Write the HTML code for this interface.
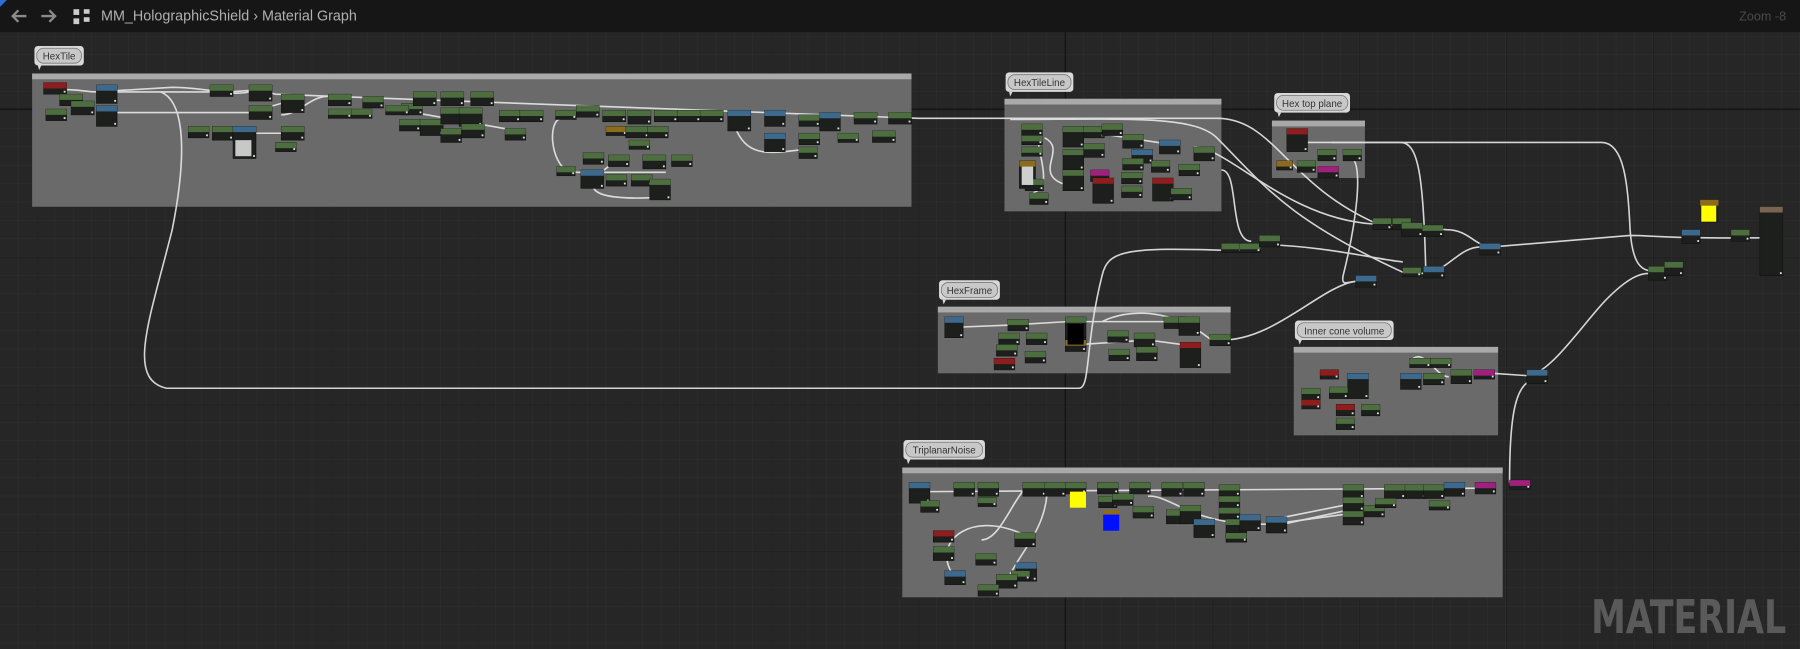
<!DOCTYPE html>
<html><head><meta charset="utf-8"><style>
html,body{margin:0;padding:0;background:#252525;overflow:hidden}
#wrap{width:1800px;height:649px;position:relative}
svg{position:absolute;left:0;top:0}
</style></head><body><div id="wrap">
<svg id="s" width="1800" height="649" viewBox="0 0 1568 565" preserveAspectRatio="none" xmlns="http://www.w3.org/2000/svg">
<defs>
<pattern id="g" width="16" height="16" patternUnits="userSpaceOnUse" x="0" y="0">
<rect width="16" height="16" fill="#262626"/>
<path d="M16 0V16M0 16H16" stroke="#2f2f2f" stroke-width="0.8"/>
</pattern>
<pattern id="G" width="128" height="128" patternUnits="userSpaceOnUse" x="32" y="96">
<path d="M0 0V128M0 0H128" stroke="#1c1c1c" stroke-width="1"/>
</pattern>
</defs>
<rect width="1568" height="565" fill="url(#g)"/>
<rect width="1568" height="565" fill="url(#G)"/>
<line x1="0" y1="95" x2="1568" y2="95" stroke="#151515" stroke-width="1.2"/>
<line x1="928" y1="28" x2="928" y2="565" stroke="#151515" stroke-width="1.2"/>
<rect x="0" y="0" width="1568" height="28" fill="#161616"/>
<path d="M0 0H6L0 6Z" fill="#2a6fd8"/>
<g fill="none" stroke="#8a8a8a" stroke-width="2">
<path d="M23 14H11M16 9L11 14L16 19"/>
<path d="M36 14H48M43 9L48 14L43 19"/>
</g>
<g fill="#ccc"><rect x="64" y="8" width="5" height="5"/><rect x="73" y="8" width="5" height="4"/><rect x="73" y="15" width="5" height="4"/><rect x="64" y="16" width="5" height="5"/></g>
<text x="88" y="18" fill="#b0b0b0" font-family="Liberation Sans, sans-serif" font-size="12.5">MM_HolographicShield  ›  Material Graph</text>
<text x="1515" y="18" fill="#4a4a4a" font-family="Liberation Sans, sans-serif" font-size="11">Zoom -8</text>
<text x="1386" y="551" fill="#5a5a5a" font-family="DejaVu Sans Condensed, Liberation Sans Narrow, sans-serif" font-weight="bold" font-size="40" textLength="170" lengthAdjust="spacingAndGlyphs">MATERIAL</text>
<g id="boxes"></g>
<g id="wires" fill="none" stroke="#e8e8e8" stroke-width="1.4" opacity="0.9"></g>
<g id="nodes"></g>
</svg>
<script>
var NS="http://www.w3.org/2000/svg";
function el(p,t,a,txt){var e=document.createElementNS(NS,t);for(var k in a)e.setAttribute(k,a[k]);if(txt)e.textContent=txt;p.appendChild(e);return e;}
var B=document.getElementById('boxes'),W=document.getElementById('wires'),N=document.getElementById('nodes');
var boxes=[["HexTile",30,40,43,28,64,766,116],["HexTileLine",876,63,59,875,86,189,98],["Hex top plane",1110,81,66,1108,105,81,50],["HexFrame",818,244,53,817,267,255,58],["Inner cone volume",1128,279,86,1127,302,178,77],["TriplanarNoise",787,383,71,786,407,523,113]];
boxes.forEach(function(b){
 el(B,'rect',{x:b[4],y:b[5],width:b[6],height:b[7],fill:'#6a6a6a'});
 el(B,'rect',{x:b[4],y:b[5],width:b[6],height:5,fill:'#a9a9a9'});
 el(B,'rect',{x:b[1],y:b[2],width:b[3],height:17,rx:3,fill:'#d8d8d8'});
 el(B,'rect',{x:b[1]+2,y:b[2]+2,width:b[3]-4,height:13,rx:6,fill:'#c8c8c8',stroke:'#777','stroke-width':0.7});
 el(B,'path',{d:'M'+(b[1]+3)+' '+(b[2]+17)+'l3 0l-2 4z',fill:'#d8d8d8'});
 el(B,'text',{x:b[1]+b[3]/2,y:b[2]+12,'text-anchor':'middle',fill:'#333','font-family':'Liberation Sans, sans-serif','font-size':'8.5'},b[0]);
});
var wires=[
"M56,78 C70,78 75,80 84,80 L150,76 C180,76 200,84 217,80",
"M100,80 L183,80 M200,80 C210,80 220,76 240,82 L800,103 L1060,103 C1110,103 1120,160 1200,195 L1260,200 C1280,200 1285,215 1300,215 L1420,205 C1440,205 1450,208 1535,207",
"M102,98 L217,98 L245,90",
"M140,80 C165,90 160,150 150,200 C130,280 110,330 145,338 L940,338 C950,338 945,300 960,240 C965,218 980,215 1070,218",
"M880,104 C980,104 1040,100 1060,120 C1100,160 1120,190 1222,237 L1240,238 C1260,238 1270,215 1290,215",
"M1040,128 C1070,128 1120,190 1196,195",
"M1064,148 C1080,148 1070,210 1090,210",
"M1139,124 L1220,124 C1235,124 1240,150 1242,236",
"M1160,124 L1395,124 C1415,124 1418,160 1420,200 C1422,230 1430,236 1440,236",
"M1175,135 C1190,140 1180,200 1170,240 C1168,250 1175,245 1181,245",
"M1065,296 C1110,296 1150,250 1180,245",
"M1095,213 C1150,213 1200,226 1222,228",
"M1300,325 L1330,327 C1350,327 1380,280 1400,260 C1420,240 1430,238 1436,238",
"M1340,330 C1320,330 1315,360 1315,420",
"M1262,328 C1250,328 1240,300 1228,315",
"M960,280 C980,270 1020,265 1060,300",
"M810,428 L1290,425",
"M1000,432 C1020,430 1040,460 1110,456 L1170,448",
"M1110,452 L1170,440 M1110,458 L1170,445",
"M210,116 L265,116",
"M490,103 C475,103 480,150 500,150 L580,150",
"M640,110 C650,135 665,135 700,130",
"M530,145 C510,160 505,175 570,172",
"M350,96 L440,112",
"M285,84 C270,84 260,100 245,100",
"M905,112 C900,130 920,160 900,168",
"M910,120 C930,130 900,150 926,160",
"M950,115 L1015,125",
"M830,285 L880,283 L930,280 L1030,280",
"M940,300 L1000,296 L1030,300",
"M855,470 C870,470 880,440 893,425",
"M830,500 C810,470 850,440 900,470",
"M880,500 C890,480 910,460 912,430"
];
wires.forEach(function(d){el(W,'path',{d:d});});
var C={g:'#4d6e3f',b:'#3d6a8c',r:'#8e1d1d',y:'#8c6c1c',m:'#a0207e',o:'#7a6450'};
var nodes="r 38,72,20,10;g 52,82,20,10;g 40,95,18,10;g 62,88,20,12;b 84,74,18,16;b 84,92,18,18;g 183,74,20,10;g 217,74,20,14;g 245,82,20,16;g 217,92,20,12;g 164,110,18,10;g 185,110,18,12;b 203,110,20,28;g 245,110,20,12;g 240,124,18,8;g 286,82,20,10;g 316,84,18,10;g 286,95,20,8;g 306,95,18,8;g 350,90,18,10;g 360,80,20,12;g 384,80,20,12;g 410,80,20,12;g 336,92,20,8;g 348,104,18,10;g 366,104,20,14;g 384,94,20,14;g 400,94,20,16;g 384,112,18,12;g 402,108,20,12;g 435,96,18,10;g 453,96,20,10;g 440,112,18,10;g 484,96,18,8;g 502,92,20,10;g 525,96,20,10;g 547,96,20,12;g 570,96,20,10;g 590,96,20,10;g 610,96,20,10;y 528,110,18,8;g 545,110,20,10;g 564,110,18,10;g 548,122,18,8;b 634,96,20,18;b 666,96,18,14;b 666,116,18,16;g 696,100,18,10;b 714,98,18,16;g 744,98,20,10;g 774,98,20,10;g 696,116,18,10;g 696,128,16,10;g 730,116,18,8;g 760,114,20,10;g 485,145,16,8;g 508,133,18,10;g 530,135,18,10;g 560,135,20,12;g 585,135,18,10;b 506,148,20,16;g 528,152,18,10;g 550,152,18,10;g 566,156,18,18;"+
"g 890,108,18,10;g 890,118,18,8;g 890,128,18,8;y 888,140,14,24;g 893,156,16,10;g 897,168,16,10;g 926,110,18,18;g 926,130,18,18;g 926,148,18,18;g 944,125,18,12;g 944,110,18,10;g 960,108,18,10;g 978,117,18,12;b 986,130,18,12;g 978,138,18,10;m 950,148,16,10;r 952,155,18,22;g 977,150,18,10;g 977,162,18,10;b 1010,122,18,12;g 1003,140,16,10;r 1004,155,18,20;g 1027,143,18,10;g 1040,128,18,12;g 1020,164,18,10;"+
"r 1121,112,18,20;g 1148,130,16,10;g 1170,130,16,10;y 1112,140,14,8;g 1130,140,16,10;m 1148,145,18,10;"+
"b 823,276,16,18;g 878,278,18,10;g 870,290,18,10;g 894,290,18,10;g 868,300,18,10;r 866,312,18,10;g 893,306,18,10;g 928,276,18,28;y 928,296,18,10;g 965,288,18,10;g 988,290,18,12;g 966,304,18,10;g 990,302,18,12;g 1014,276,18,10;g 1027,276,18,16;r 1028,298,18,22;g 1054,291,18,10;"+
"r 1150,322,16,8;b 1174,325,18,22;g 1134,338,16,10;g 1158,337,16,10;r 1134,348,16,8;r 1164,352,16,10;g 1186,352,16,10;g 1164,364,16,10;b 1220,325,18,14;g 1228,312,18,8;g 1246,312,18,8;g 1240,325,18,10;g 1264,322,18,12;m 1284,322,18,8;"+
"b 792,420,18,18;g 802,436,16,10;g 831,420,18,12;g 852,420,18,12;g 852,433,16,8;g 891,420,20,12;g 910,420,18,12;g 928,420,18,10;g 956,420,18,10;g 984,420,18,10;g 1012,420,18,12;g 1031,420,18,12;g 957,432,16,10;g 969,430,18,10;g 987,441,18,10;g 1016,444,18,12;g 1028,440,18,16;b 1040,452,18,16;g 1062,422,18,10;g 1062,432,18,10;g 1062,442,18,10;g 1068,452,18,16;g 1068,464,18,8;b 1080,448,18,14;b 1103,450,18,14;g 1170,422,18,12;g 1170,433,18,12;g 1170,445,18,12;g 1188,440,18,10;g 1206,422,18,12;g 1224,422,18,12;g 1240,422,18,12;b 1258,420,18,12;m 1285,420,18,10;m 1315,418,18,8;g 1198,434,18,8;g 1245,436,18,8;r 813,462,18,10;g 813,476,18,12;g 884,464,18,12;g 850,482,18,10;b 885,490,18,16;g 881,497,16,8;b 823,497,18,12;g 868,500,18,12;g 852,509,18,10;"+
"g 1064,212,18,8;g 1080,212,18,8;g 1097,205,18,10;g 1196,190,16,10;g 1213,190,16,10;g 1221,194,18,12;g 1239,196,18,10;b 1289,212,18,10;g 1222,233,16,8;b 1240,232,18,10;b 1181,240,18,10;g 1436,232,16,12;g 1450,228,16,12;b 1465,200,16,12;g 1508,200,16,10;b 1330,322,18,12;o 1533,180,20,60";
nodes.split(';').forEach(function(s){
 var t=s.trim().split(' '),c=t[0],v=t[1].split(',').map(Number);
 el(N,'rect',{x:v[0],y:v[1],width:v[2],height:v[3],fill:'#1d1f1d',stroke:'#111','stroke-width':0.5});
 el(N,'rect',{x:v[0],y:v[1],width:v[2],height:Math.min(5,v[3]),fill:C[c]});
 el(N,'rect',{x:v[0]+v[2]-2.5,y:v[1]+v[3]-3,width:1.6,height:1.6,fill:'#ddd'});
});
el(N,'rect',{x:205,y:122,width:14,height:14,fill:'#c8c8c8'});
el(N,'rect',{x:890,y:145,width:10,height:16,fill:'#cfcfcf'});
el(N,'rect',{x:930,y:282,width:14,height:18,fill:'#000'});
el(N,'rect',{x:932,y:428,width:14,height:14,fill:'#ffff00'});
el(N,'rect',{x:961,y:444,width:14,height:8,fill:'#8c6c1c'});
el(N,'rect',{x:961,y:448,width:14,height:14,fill:'#0010ff'});
el(N,'rect',{x:1481,y:174,width:16,height:20,fill:'#1d1f1d'});
el(N,'rect',{x:1481,y:174,width:16,height:5,fill:'#8c6c1c'});
el(N,'rect',{x:1482,y:179,width:13,height:14,fill:'#ffff00'});
</script>
</div></body></html>
